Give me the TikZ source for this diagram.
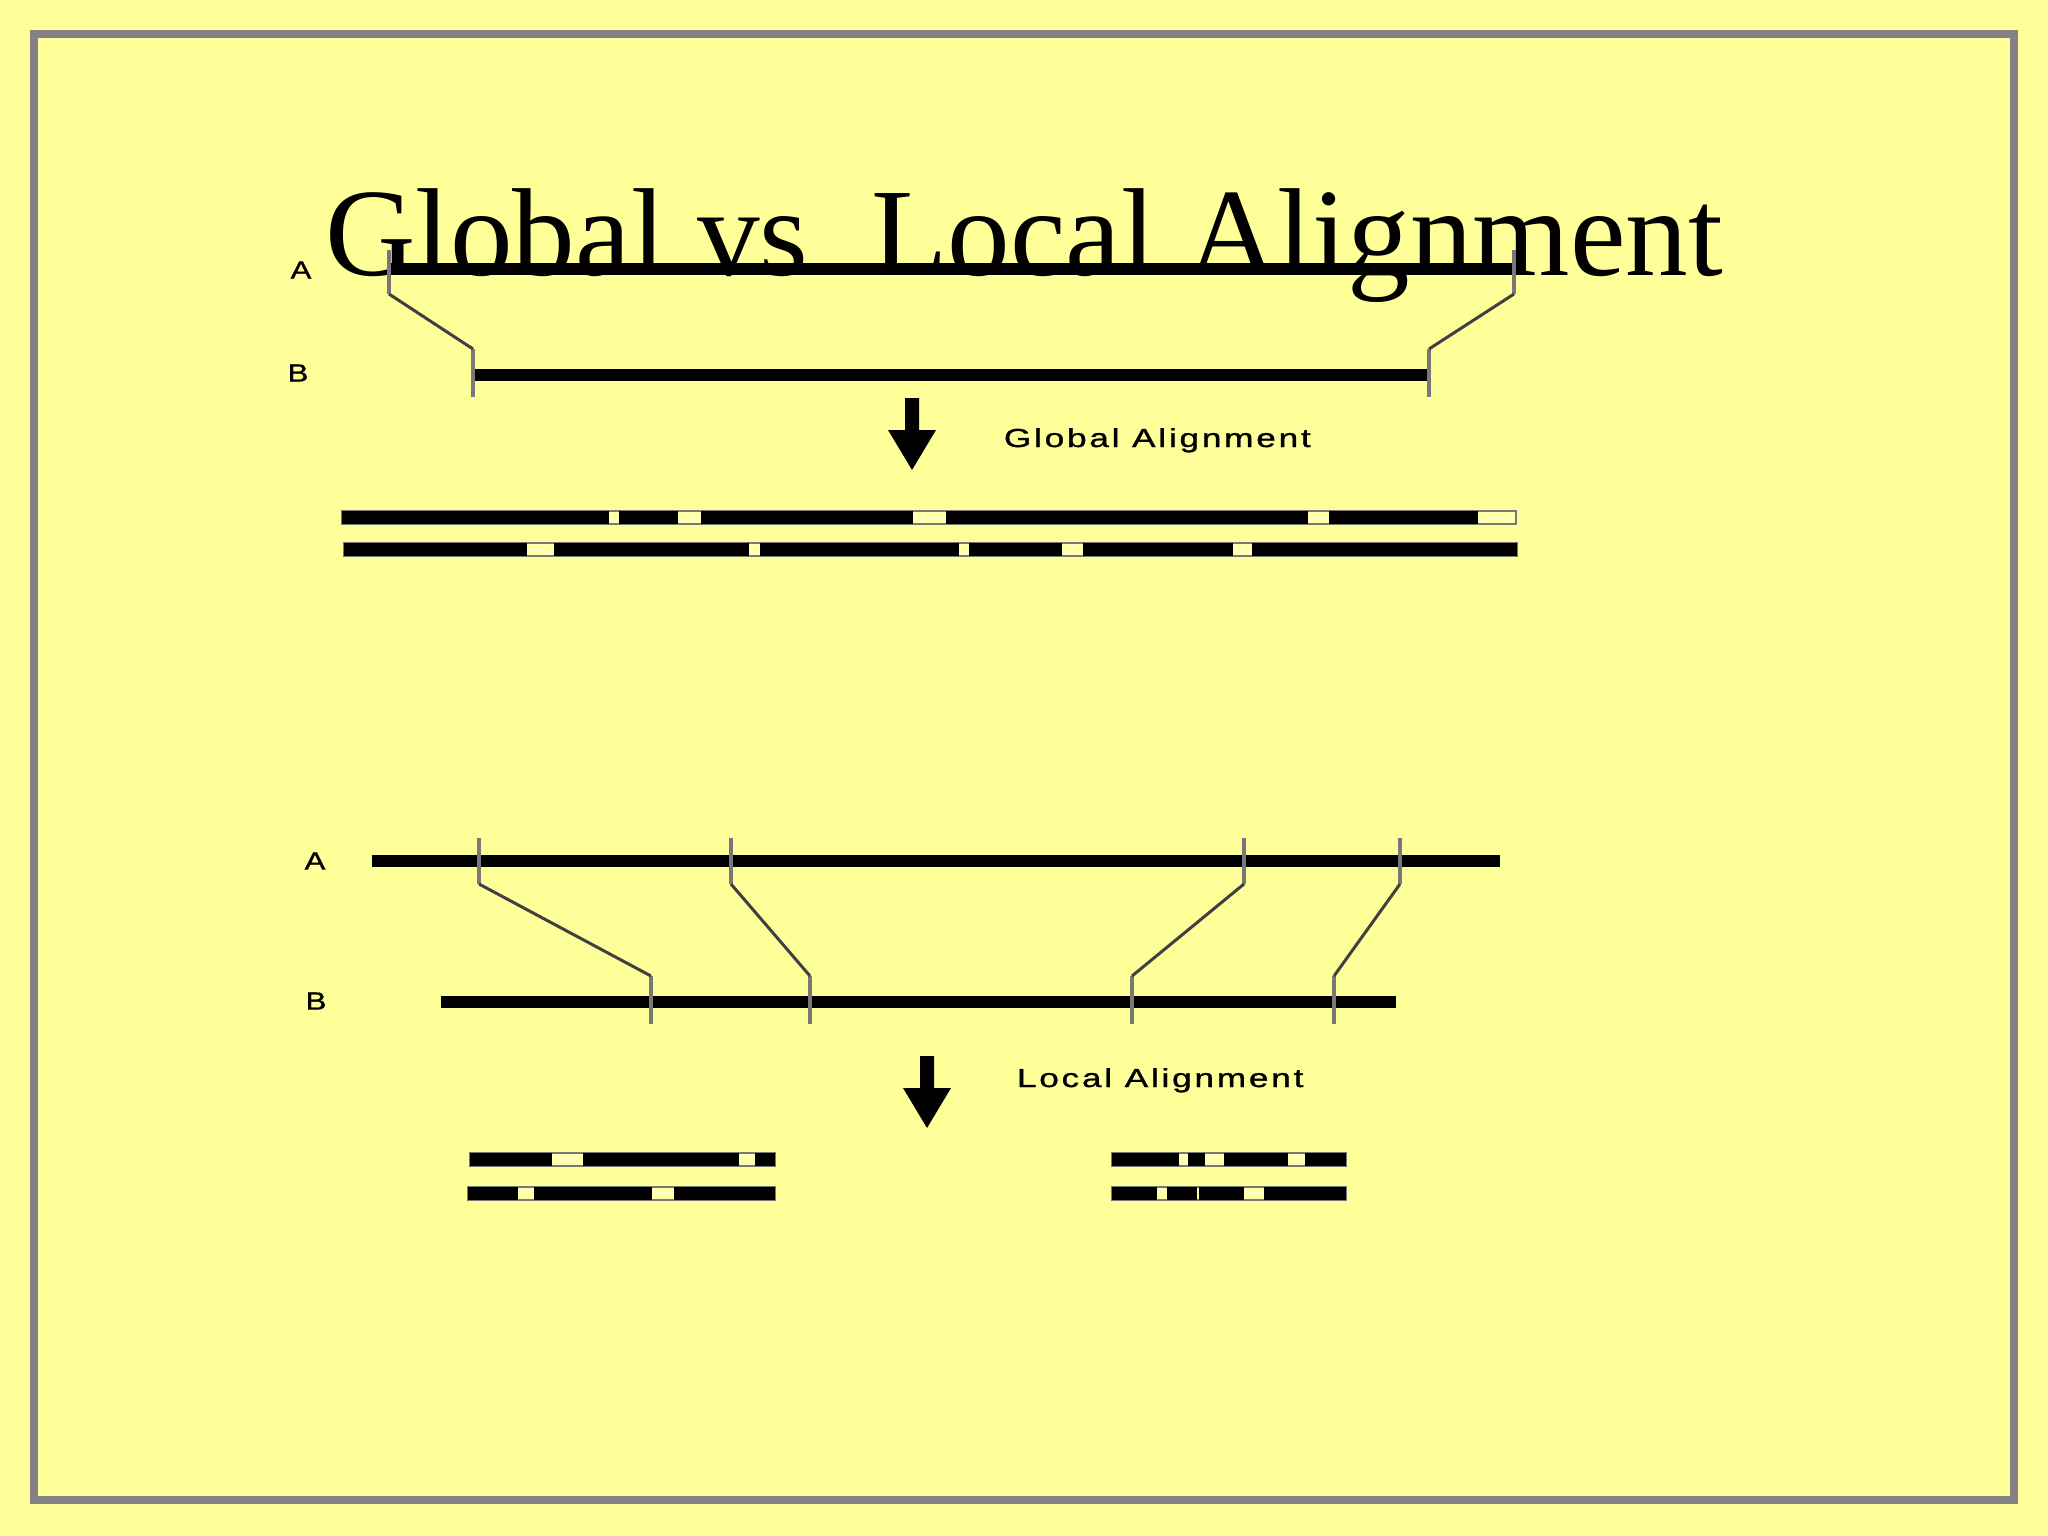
\documentclass[tikz,border=0pt]{standalone}
\usepackage{fontspec}
\setmainfont{Liberation Serif}
\newfontfamily\labfont[LetterSpace=8,FakeBold=1]{Liberation Sans}
\newfontfamily\abfont[FakeBold=0.8]{Liberation Sans}
\definecolor{bgyellow}{RGB}{255,255,153}
\definecolor{framegray}{RGB}{133,128,133}
\definecolor{gapfill}{RGB}{255,255,176}
\definecolor{tickgray}{RGB}{120,120,120}
\newcommand\segrow[4]{%
  \draw[gapbox] (#2,#1-6.5) rectangle (#3,#1+6.5);
  \foreach \a/\b in {#4} {\fill[black] (\a,#1-6.5) rectangle (\b,#1+6.5);}
}
\newcommand\bigdownarrow[4]{% x, top, headtop, tip
  \fill[black] (#1-7,#2) -- (#1+7,#2) -- (#1+7,#3) -- (#1+24,#3) -- (#1,#4) -- (#1-24,#3) -- (#1-7,#3) -- cycle;
}
\begin{document}
\begin{tikzpicture}[x=0.01cm,y=-0.01cm,
  seqline/.style={line width=0.125cm,black},
  tickline/.style={line width=0.04cm,tickgray},
  diagline/.style={line width=0.03cm,black!75},
  gapbox/.style={fill=gapfill,draw=tickgray,line width=0.02cm},
  labeltext/.style={inner sep=0pt,font=\labfont\fontsize{7.4pt}{8pt}\selectfont,xscale=1.35},
  seqlabel/.style={inner sep=0pt,font=\abfont\fontsize{7.1pt}{8pt}\selectfont,xscale=1.25}]
\useasboundingbox (0,0) rectangle (2048,1536);
\fill[bgyellow] (0,0) rectangle (2048,1536);
\draw[framegray,line width=0.08cm] (34,34) rectangle (2014,1500);
% title
\node[inner sep=0pt,anchor=base,font=\fontsize{35.6pt}{40pt}\selectfont] (title) at (1024,275) {Global vs\ \ Local Alignment};
% ---------- global ----------
\node[seqlabel] (gAlab) at (301,270) {A};
\node[seqlabel] (gBlab) at (298,373) {B};
\coordinate (gA1) at (389,269); \coordinate (gA2) at (1514,269);
\coordinate (gB1) at (473,375); \coordinate (gB2) at (1429,375);
\draw[seqline] (gA1) -- (gA2);
\draw[seqline] (gB1) -- (gB2);
\coordinate (gAt1) at (389,250); \coordinate (gAb1) at (389,294);
\coordinate (gAt2) at (1514,250); \coordinate (gAb2) at (1514,294);
\coordinate (gBt1) at (473,349); \coordinate (gBb1) at (473,397);
\coordinate (gBt2) at (1429,349); \coordinate (gBb2) at (1429,397);
\draw[tickline] (gAt1) -- (gAb1); \draw[tickline] (gAt2) -- (gAb2);
\draw[tickline] (gBt1) -- (gBb1); \draw[tickline] (gBt2) -- (gBb2);
\draw[diagline] (gAb1) -- (gBt1);
\draw[diagline] (gAb2) -- (gBt2);
\bigdownarrow{912}{398}{430}{470}
\node[labeltext,anchor=base west] (glab) at (1003,447) {Global Alignment};
\segrow{517}{342}{1516}{342/609,619/678,701/913,946/1308,1329/1478}
\segrow{549}{344}{1517}{344/527,554/749,760/959,969/1062,1083/1233,1252/1517}
% ---------- local ----------
\node[seqlabel] (lAlab) at (315,861) {A};
\node[seqlabel] (lBlab) at (316,1001) {B};
\coordinate (lA1) at (372,861); \coordinate (lA2) at (1500,861);
\coordinate (lB1) at (441,1002); \coordinate (lB2) at (1396,1002);
\draw[seqline] (lA1) -- (lA2);
\draw[seqline] (lB1) -- (lB2);
\foreach \xa/\xb [count=\i] in {479/651,731/810,1244/1132,1400/1334} {
  \coordinate (lAt\i) at (\xa,838); \coordinate (lAb\i) at (\xa,884);
  \coordinate (lBt\i) at (\xb,976); \coordinate (lBb\i) at (\xb,1024);
  \draw[tickline] (lAt\i) -- (lAb\i);
  \draw[tickline] (lBt\i) -- (lBb\i);
  \draw[diagline] (lAb\i) -- (lBt\i);
}
\bigdownarrow{927}{1056}{1088}{1128}
\node[labeltext,anchor=base west] (llab) at (1016,1087) {Local Alignment};
\segrow{1159}{470}{775}{470/552,583/739,755/775}
\segrow{1193}{468}{775}{468/518,534/652,674/775}
\segrow{1159}{1112}{1346}{1112/1179,1188/1205,1224/1288,1305/1346}
\segrow{1193}{1112}{1346}{1112/1157,1167/1197,1199/1244,1264/1346}
\end{tikzpicture}
\end{document}
